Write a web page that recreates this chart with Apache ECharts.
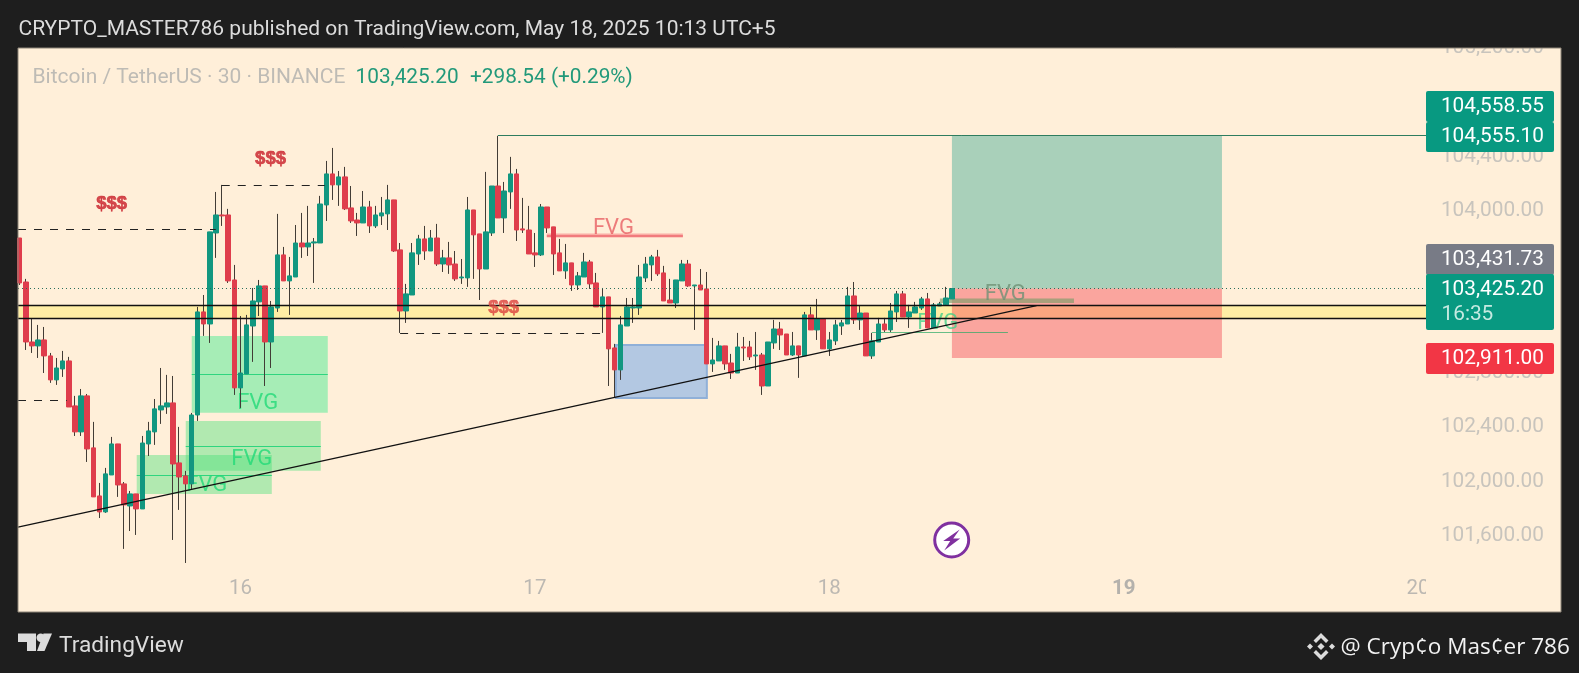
<!DOCTYPE html>
<html>
<head>
    <meta charset="utf-8">
    <title>BTCUSDT 30</title>
    <script src="https://cdn.jsdelivr.net/npm/echarts@6/dist/echarts.min.js"></script>
    <style>
        html, body { margin: 0; padding: 0; background: #1e1e1e; }
        #chart1 { width: 1579px; height: 673px; }
    </style>
</head>
<body>
<div id="chart1"></div>
<script type="text/javascript">
    // 30 min bars
    var opens = [103798,103473,103030,103001,103045,102927,102750,102831,102890,102558,102366,102632,102248,101893,101775,102048,102277,101982,101819,101908,
        101797,102277,102366,102528,102550,102580,102137,102041,101982,102491,103252,103163,103835,103968,103968,103488,102691,102794,103148,103326,
        103444,103030,103281,103673,103481,103510,103761,103732,103761,103761,104042,104271,104190,104249,104020,103931,103909,104027,103887,103961,
        103976,104079,103710,103259,103377,103680,103791,103702,103798,103606,103651,103606,103503,103503,104005,103828,103569,103835,104182,103946,
        104138,104271,103865,103857,103688,103673,104027,103880,103688,103555,103614,103451,103510,103621,103466,103289,103363,102986,102824,103148,
        103281,103281,103503,103599,103658,103540,103340,103318,103481,103606,103444,103451,103422,102868,102890,103001,102875,102801,102993,102993,
        102927,102934,102705,103023,103126,103089,102934,103001,102927,103230,103119,103200,102979,103038,103148,103163,103370,103193,103244,102927,
        103030,103163,103119,103252,103385,103215,103244,103281,103348,103134,103296,103304,103348];
    var closes = [103466,103030,103001,103045,102927,102750,102838,102890,102550,102366,102632,102240,101886,101775,102056,102277,101974,101827,101908,101797,
        102284,102373,102536,102558,102580,102129,102033,101982,102491,103252,103163,103843,103968,103961,103481,102691,102801,103156,103333,103444,
        103030,103289,103673,103481,103518,103761,103732,103761,103769,104049,104271,104190,104249,104013,103924,103909,104027,103887,103968,103983,
        104079,103702,103259,103385,103688,103791,103702,103798,103606,103651,103599,103496,103510,104005,103821,103569,103843,104182,103946,104145,
        104271,103857,103857,103680,103673,104027,103872,103680,103555,103614,103451,103518,103621,103459,103289,103363,102979,102824,103156,103289,
        103289,103510,103606,103658,103533,103333,103318,103488,103606,103444,103451,103414,102868,102897,103001,102868,102801,102993,102986,102920,
        102934,102705,103030,103126,103082,102934,103001,102934,103230,103119,103200,102979,103045,103156,103171,103370,103193,103244,102927,103038,
        103163,103119,103259,103385,103215,103252,103289,103348,103134,103304,103311,103355,103425];
    var lows = [103451,102971,102949,102912,102801,102728,102713,102772,102550,102336,102336,102144,101886,101730,101768,102048,101886,101502,101634,101605,
        101797,102188,102270,102425,102499,101568,101790,101398,101945,102447,103075,103023,103651,103887,103466,102639,102543,102794,102883,103222,
        102705,102838,103252,103481,103230,103510,103651,103665,103466,103761,103924,104079,104035,104005,103909,103813,103909,103835,103872,103894,
        103857,103695,103097,103171,103377,103599,103636,103702,103592,103547,103533,103481,103459,103437,103496,103340,103569,103813,103946,103835,
        104013,103776,103835,103680,103584,103665,103835,103525,103555,103496,103407,103414,103510,103422,103289,103097,102705,102617,102750,103148,
        103171,103230,103473,103481,103518,103333,103318,103281,103481,103437,103119,103414,102868,102809,102890,102824,102757,102801,102890,102897,
        102824,102639,102705,102979,102971,102934,102927,102765,102927,103119,103045,102979,102927,103008,103082,103163,103163,103119,102927,102905,
        103030,103104,103104,103178,103215,103134,103244,103267,103134,103134,103296,103304,103348];
    var highs = [103798,103496,103200,103156,103141,102949,102912,102964,102920,102632,102683,102646,102440,101989,102100,102329,102277,101996,101930,101908,
        102336,102440,102609,102838,102787,102779,102403,102078,102506,103289,103377,103843,104138,104190,104013,103599,103222,103230,103429,103488,
        103444,103333,103976,103732,103658,103894,103983,104035,103798,104109,104367,104463,104293,104323,104182,103983,104145,104072,104035,104101,
        104190,104079,103761,103459,103761,103821,103887,103857,103902,103710,103769,103702,103643,104101,104005,103828,104286,104182,104552,104212,
        104397,104308,104094,104035,103835,104049,104027,103880,103791,103754,103614,103547,103688,103636,103540,103429,103363,103016,103222,103355,
        103355,103599,103658,103673,103710,103592,103496,103488,103636,103636,103451,103569,103547,103060,103038,103001,102942,103097,103067,103038,
        103104,102949,103030,103193,103178,103089,103104,103001,103252,103289,103348,103200,103104,103193,103193,103437,103473,103296,103244,103097,
        103208,103208,103318,103407,103407,103304,103326,103363,103392,103318,103326,103437,103425];

    // x axis is the bar number, 36 is the first bar of the 16th
    var dayBars = [36, 84, 132, 180, 228];
    var dayLabels = ['16', '17', '18', '19', '20'];
    var priceTicks = [101600, 102000, 102400, 102800, 103200, 103600, 104000, 104400, 104800, 105200];
    var priceTickLabels = ['101,600.00', '102,000.00', '102,400.00', '102,800.00', '103,200.00', '103,600.00', '104,000.00', '104,400.00', '104,800.00', '105,200.00'];

    // [barFrom, barTo, priceTop, priceBottom]
    var greenFvgs = [[28.05, 50.23, 103075, 102508], [27.07, 49.09, 102447, 102080], [19.08, 41.10, 102196, 101908]];
    var greenFvgMids = [102792, 102260, 102046];
    var redFvg = [85.95, 108.13, 103832, 103802];
    var redFvgMid = 103817;
    var smallFvg = [150.04, 171.9, 103352, 103318];
    var blueBox = [97.2, 112.04, 103008, 102617];
    var yellowBand = [103301, 103205];
    var positionBars = [152, 196.03];
    var takeProfit = 104555.10, entryPrice = 103425.20, stopLoss = 102911.00;

    // dashed liquidity lines [barFrom, barTo, price]
    var liquidityLines = [[-0.28, 31.97, 103863], [-0.28, 7.67, 102600], [32.94, 49.74, 104187], [62.02, 94.97, 103095]];
    var trendFrom = [-0.28, 101662], trendTo = [165.8, 103298];
    var lowFvgLine = [138.95, 161.13, 103102];
    var targetLineFrom = 77.96;

    var fvgTexts = [[38.8, 102590], [37.84, 102176], [30.5, 101987]];
    var redFvgText = [96.8, 103882];
    var lateFvgTexts = [[160.7, 103397], [149.7, 103178]];
    var dollarTexts = [[15.0, 104066], [40.9, 104399]];
    var dollarTextMid = [78.9, 103298];

    var xMin = -0.28, xMax = 229.3, yMin = 101036, yMax = 105201;

    var dark = '#1e1e1e', cream = '#ffefd9';
    var upColor = '#129780', downColor = '#df3d4c', wickColor = '#423c36';
    var font = 'Roboto';

    var wicks = [], bodies = [];
    for (var i = 0; i < opens.length; i++) {
        wicks.push([i, opens[i], closes[i], lows[i], highs[i]]);
        bodies.push([i, opens[i], closes[i], Math.min(opens[i], closes[i]), Math.max(opens[i], closes[i])]);
    }

    function area(b, fill, stroke) {
        return [{
            coord: [b[0], b[2]],
            itemStyle: { color: fill, borderColor: stroke || 'transparent', borderWidth: stroke ? 2 : 0 }
        }, { coord: [b[1], b[3]] }];
    }
    function line(x1, y1, x2, y2, color, width, type) {
        return [{
            coord: [x1, y1],
            lineStyle: { color: color, width: width, type: type || 'solid', opacity: 1 }
        }, { coord: [x2, y2] }];
    }

    var areas = [
        area([xMin, xMax, yellowBand[0], yellowBand[1]], '#ffeea5'),
        area(greenFvgs[0], '#a6edb6'),
        area(greenFvgs[1], 'rgba(70,224,120,0.42)'),
        area(greenFvgs[2], 'rgba(70,224,120,0.42)'),
        area(blueBox, '#b3c8e2', '#90b0d8'),
        area(redFvg, 'rgba(242,54,69,0.35)'),
        area([positionBars[0], positionBars[1], takeProfit, entryPrice], 'rgba(8,153,129,0.35)'),
        area([positionBars[0], positionBars[1], entryPrice, stopLoss], 'rgba(242,54,69,0.4)'),
        area(smallFvg, 'rgba(125,155,105,0.65)')
    ];
    var backLines = [
        line(greenFvgs[0][0], greenFvgMids[0], greenFvgs[0][1], greenFvgMids[0], '#2fd57f', 1),
        line(greenFvgs[1][0], greenFvgMids[1], greenFvgs[1][1], greenFvgMids[1], '#2fd57f', 1),
        line(greenFvgs[2][0], greenFvgMids[2], greenFvgs[2][1], greenFvgMids[2], '#2fd57f', 1),
        line(redFvg[0], redFvgMid, redFvg[1], redFvgMid, '#ee6a70', 1.5),
        line(lowFvgLine[0], lowFvgLine[2], lowFvgLine[1], lowFvgLine[2], 'rgba(40,170,100,0.7)', 1)
    ];
    var frontLines = [
        line(xMin, yellowBand[0], xMax, yellowBand[0], '#111111', 1.3),
        line(xMin, yellowBand[1], xMax, yellowBand[1], '#111111', 1.3),
        line(xMin, entryPrice, xMax, entryPrice, '#2a6f5c', 1, [1, 3]),
        line(targetLineFrom, takeProfit, xMax, takeProfit, '#2e7d5f', 1),
        line(trendFrom[0], trendFrom[1], trendTo[0], trendTo[1], '#111111', 1.3)
    ];
    liquidityLines.forEach(function (l) {
        frontLines.push(line(l[0], l[2], l[1], l[2], '#222222', 1, [8, 8]));
    });

    function textSeries(points, z, color, text, size, weight, family, outline) {
        return {
            type: 'scatter',
            z: z,
            silent: true,
            symbolSize: 0,
            data: points,
            label: {
                show: true,
                position: 'inside',
                offset: [0, 2],
                formatter: text,
                color: color,
                fontFamily: family || font,
                fontSize: size,
                fontWeight: weight || 'normal',
                textBorderColor: outline ? color : 'transparent',
                textBorderWidth: outline || 0
            }
        };
    }

    // price tags, header and footer around the plot
    function tag(top, bottom, color, z) {
        return { type: 'rect', z: z || 20, shape: { x: 1426, y: top, width: 128, height: bottom - top, r: 2 }, style: { fill: color } };
    }
    function text(str, x, y, size, fill, align, family, z) {
        return {
            type: 'text', z: z || 21, x: x, y: y,
            style: { text: str, fontFamily: family || font, fontSize: size, fill: fill, align: align || 'left', verticalAlign: 'middle' }
        };
    }
    function poly(points, fill, z) {
        return { type: 'polygon', z: z || 21, shape: { points: points }, style: { fill: fill } };
    }
    function moved(points, cx, cy) {
        return points.map(function (p) { return [p[0] + cx, p[1] + cy]; });
    }

    var chrome = [
        { type: 'rect', z: -1, shape: { x: 18, y: 48, width: 1543, height: 564 }, style: { fill: cream } },
        { type: 'rect', z: 10, shape: { x: 0, y: 0, width: 1579, height: 48 }, style: { fill: dark } },
        { type: 'rect', z: 10, shape: { x: 1426, y: 572, width: 135, height: 39 }, style: { fill: cream } },
        { type: 'rect', z: 11, shape: { x: 18, y: 48, width: 1543, height: 564 }, style: { fill: 'none', stroke: '#8d8578', lineWidth: 1 } },

        text('CRYPTO_MASTER786 published on TradingView.com, May 18, 2025 10:13 UTC+5', 18.5, 30, 21, '#dcdcdc'),
        text('Bitcoin / TetherUS · 30 · BINANCE', 32.5, 78, 21, '#bebbb5'),
        text('103,425.20', 355.5, 78, 20.8, '#22997a'),
        text('+298.54 (+0.29%)', 470, 78, 20.8, '#22997a'),

        tag(91, 122, '#089981'), tag(122, 152, '#089981'),
        tag(244, 275, '#787b86'), tag(274, 330, '#089981'), tag(343, 374, '#f23645'),
        text('104,558.55', 1544, 107, 20.8, '#ffffff', 'right'),
        text('104,555.10', 1544, 137, 20.8, '#ffffff', 'right'),
        text('103,431.73', 1544, 260, 20.8, '#ffffff', 'right'),
        text('103,425.20', 1544, 290, 20.8, '#ffffff', 'right'),
        text('16:35', 1441.5, 315, 20.8, '#c6eae1'),
        text('102,911.00', 1544, 359, 20.8, '#ffffff', 'right'),

        // lightning marker
        { type: 'circle', z: 12, shape: { cx: 951.7, cy: 540, r: 19 }, style: { fill: '#ffffff', stroke: cream, lineWidth: 1 } },
        { type: 'circle', z: 13, shape: { cx: 951.7, cy: 540, r: 17 }, style: { fill: '#ffffff', stroke: '#80309f', lineWidth: 3 } },
        poly(moved([[8, -10.5], [-8.5, 1], [-1.5, 1], [-7.5, 10.5], [8.5, -1.5], [1.5, -1.5]], 951.7, 540), '#80309f', 14),

        // TradingView logo
        poly([[18, 633.5], [36, 633.5], [36, 651], [27, 651], [27, 642], [18, 642]], '#dcdcdc'),
        { type: 'circle', z: 21, shape: { cx: 40.7, cy: 637.7, r: 4.2 }, style: { fill: '#dcdcdc' } },
        poly([[43.5, 633.5], [52, 633.5], [44.5, 651], [37, 651]], '#dcdcdc'),
        text('TradingView', 59, 646, 22.7, '#dcdcdc'),

        // Binance mark
        poly(moved([[0, -3.6], [3.6, 0], [0, 3.6], [-3.6, 0]], 1321, 646.5), '#dcdcdc'),
        poly(moved([[0, -3], [3, 0], [0, 3], [-3, 0]], 1310, 646.5), '#dcdcdc'),
        poly(moved([[0, -3], [3, 0], [0, 3], [-3, 0]], 1332, 646.5), '#dcdcdc'),
        poly(moved([[0, -13.5], [7.5, -6], [5, -3.5], [0, -8.5], [-5, -3.5], [-7.5, -6]], 1321, 646.5), '#dcdcdc'),
        poly(moved([[0, 13.5], [7.5, 6], [5, 3.5], [0, 8.5], [-5, 3.5], [-7.5, 6]], 1321, 646.5), '#dcdcdc'),
        text('@ Cryp¢o Mas¢er 786', 1340.5, 648, 22.5, '#f2f2f2', 'left', '"Open Sans"')
    ];

    var myChart = echarts.init(document.getElementById('chart1'));
    myChart.setOption({
        animation: false,
        backgroundColor: dark,
        graphic: { elements: chrome },
        grid: { left: 18, right: 153, top: 48, bottom: 61 },
        tooltip: { show: false },
        xAxis: {
            type: 'value',
            min: xMin,
            max: xMax,
            splitLine: { show: false },
            axisLine: { show: false },
            axisTick: { show: false },
            axisLabel: {
                show: true,
                customValues: dayBars,
                margin: -34,
                fontFamily: font,
                fontSize: 20.5,
                color: '#bcb8b2',
                formatter: function (v) {
                    var label = dayLabels[dayBars.indexOf(v)];
                    return label === '19' ? '{bold|19}' : label;
                },
                rich: { bold: { fontWeight: 'bold', fontSize: 20.5, fontFamily: font, color: '#b4b1ac' } }
            }
        },
        yAxis: {
            type: 'value',
            position: 'right',
            min: yMin,
            max: yMax,
            splitLine: { show: false },
            axisLine: { show: false },
            axisTick: { show: false },
            axisLabel: {
                show: true,
                customValues: priceTicks,
                align: 'right',
                margin: 118,
                padding: [0, 0, 5, 0],
                fontFamily: font,
                fontSize: 20.8,
                color: '#c8c4bd',
                formatter: function (v) {
                    return priceTickLabels[priceTicks.indexOf(v)];
                }
            }
        },
        series: [
            {
                type: 'line',
                data: [],
                silent: true,
                markArea: { silent: true, z: 0, label: { show: false }, data: areas },
                markLine: { silent: true, z: 1, symbol: 'none', label: { show: false }, data: backLines }
            },
            textSeries(fvgTexts, 1.5, '#22d978', 'FVG', 22),
            textSeries([redFvgText], 1.5, '#e85f63', 'FVG', 22),
            textSeries([lateFvgTexts[0]], 1.5, '#6f9175', 'FVG', 22),
            textSeries([lateFvgTexts[1]], 1.5, '#45cf88', 'FVG', 22),
            {
                type: 'candlestick',
                z: 2,
                silent: true,
                data: wicks,
                barWidth: 1,
                itemStyle: { color: wickColor, color0: wickColor, borderColor: wickColor, borderColor0: wickColor, borderWidth: 1 }
            },
            {
                type: 'candlestick',
                z: 3,
                silent: true,
                data: bodies,
                barWidth: 5,
                itemStyle: { color: upColor, color0: downColor, borderColor: upColor, borderColor0: downColor, borderWidth: 1 }
            },
            {
                type: 'line',
                data: [],
                silent: true,
                markLine: { silent: true, z: 5, symbol: 'none', label: { show: false }, data: frontLines }
            },
            textSeries(dollarTexts, 6, '#c9202b', '$$$', 18.5, 'bold', '"Liberation Sans"', 0.6),
            textSeries([dollarTextMid], 6, '#dd4540', '$$$', 18.5, 'bold', '"Liberation Sans"', 0.6)
        ]
    });
</script>
</body>
</html>
